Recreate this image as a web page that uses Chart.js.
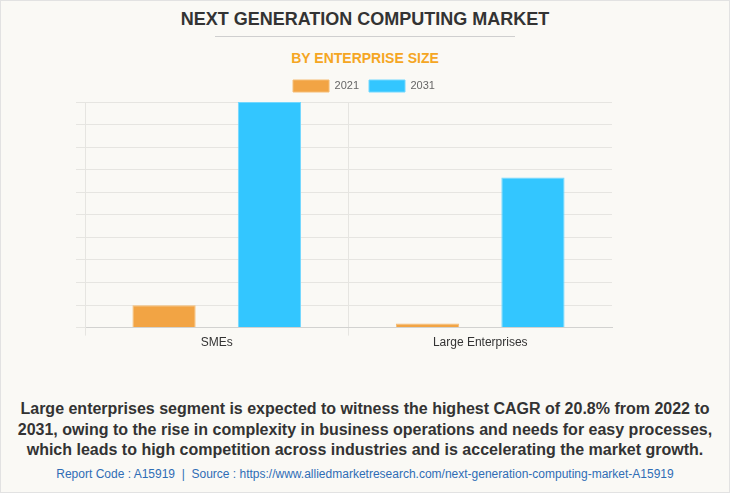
<!DOCTYPE html>
<html>
<head>
<meta charset="utf-8">
<script src="https://cdn.jsdelivr.net/npm/chart.js@4.4.0/dist/chart.umd.min.js"></script>
<style>
  html, body { margin: 0; padding: 0; }
  body { width: 730px; height: 493px; background: #faf9f5; position: relative; overflow: hidden; font-family: "Liberation Sans", Arial, sans-serif; }
  #frame { position: absolute; left: 0; top: 0; width: 728px; height: 491px; border: 1px solid #e2e2e2; }
  #title { position: absolute; left: 0; width: 730px; top: 9px; text-align: center; font-weight: bold; font-size: 18px; color: #333; letter-spacing: 0px; }
  #rule { position: absolute; left: 215px; width: 300px; top: 36px; height: 1px; background: #cfcfcf; }
  #subtitle { position: absolute; left: 0; width: 730px; top: 50px; text-align: center; font-weight: bold; font-size: 14px; color: #f5a623; }
  #wrap { position: absolute; left: 0; top: 70px; width: 730px; height: 280px; }
  #note { position: absolute; left: 0; width: 730px; top: 399px; text-align: center; font-weight: bold; font-size: 16px; line-height: 20.5px; color: #333; }
  #source { position: absolute; left: 0; width: 730px; top: 467px; text-align: center; font-size: 12px; color: #2f6db5; }
</style>
</head>
<body>
<div id="frame"></div>
<div id="title">NEXT GENERATION COMPUTING MARKET</div>
<div id="rule"></div>
<div id="subtitle">BY ENTERPRISE SIZE</div>
<div id="wrap"><canvas id="c"></canvas></div>
<div id="note">Large enterprises segment is expected to witness the highest CAGR of 20.8% from 2022 to<br>2031, owing to the rise in complexity in business operations and needs for easy processes,<br>which leads to high competition across industries and is accelerating the market growth.</div>
<div id="source">Report Code : A15919&nbsp; | &nbsp;Source : https://www.alliedmarketresearch.com/next-generation-computing-market-A15919</div>
<script>
const categories = ["SMEs", "Large Enterprises"];
const seriesLabels = ["2021", "2031"];
const values2021 = [0.99, 0.18];
const values2031 = [10.0, 6.65];
const yTicksMax = 10;

const ctx = document.getElementById('c');
new Chart(ctx, {
  type: 'bar',
  data: {
    labels: categories,
    datasets: [
      { label: seriesLabels[0], data: values2021, backgroundColor: '#f2a444', borderColor: '#f6bd75', borderWidth: 1, yAxisID: 'y' },
      { label: seriesLabels[1], data: values2031, backgroundColor: '#33c6ff', borderColor: '#72d8ff', borderWidth: 1, yAxisID: 'y' }
    ]
  },
  options: {
    responsive: true,
    maintainAspectRatio: false,
    animation: false,
    layout: { padding: { left: 0, right: 2, top: 0, bottom: 0 } },
    datasets: { bar: { categoryPercentage: 0.8, barPercentage: 0.6 } },
    plugins: {
      legend: {
        display: true,
        position: 'top',
        labels: { boxWidth: 36, boxHeight: 12, padding: 10, color: '#666', font: { family: 'Liberation Sans, Arial, sans-serif', size: 11 } }
      },
      tooltip: { enabled: false }
    },
    scales: {
      x: {
        offset: true,
        grid: {
          display: true,
          offset: true,
          drawTicks: true,
          tickLength: 8,
          color: (c) => c.type === 'tick' ? '#e6e5e1' : 'rgba(0,0,0,0)'
        },
        border: { display: true, color: '#d2d2d0' },
        ticks: { color: '#333', padding: 0, font: { family: 'Liberation Sans, Arial, sans-serif', size: 12 } }
      },
      y: {
        position: 'left',
        min: 0,
        max: yTicksMax,
        ticks: { display: false, stepSize: 1 },
        grid: { color: '#e6e5e1', tickLength: 9, drawTicks: true },
        border: { display: true, color: '#e6e5e1' },
        afterFit: (s) => { s.width = 85; }
      },
      y2: {
        position: 'right',
        display: true,
        min: 0,
        max: 1,
        ticks: { display: false },
        grid: { display: false },
        border: { display: false },
        afterFit: (s) => { s.width = 116; }
      }
    }
  }
});
</script>
</body>
</html>
